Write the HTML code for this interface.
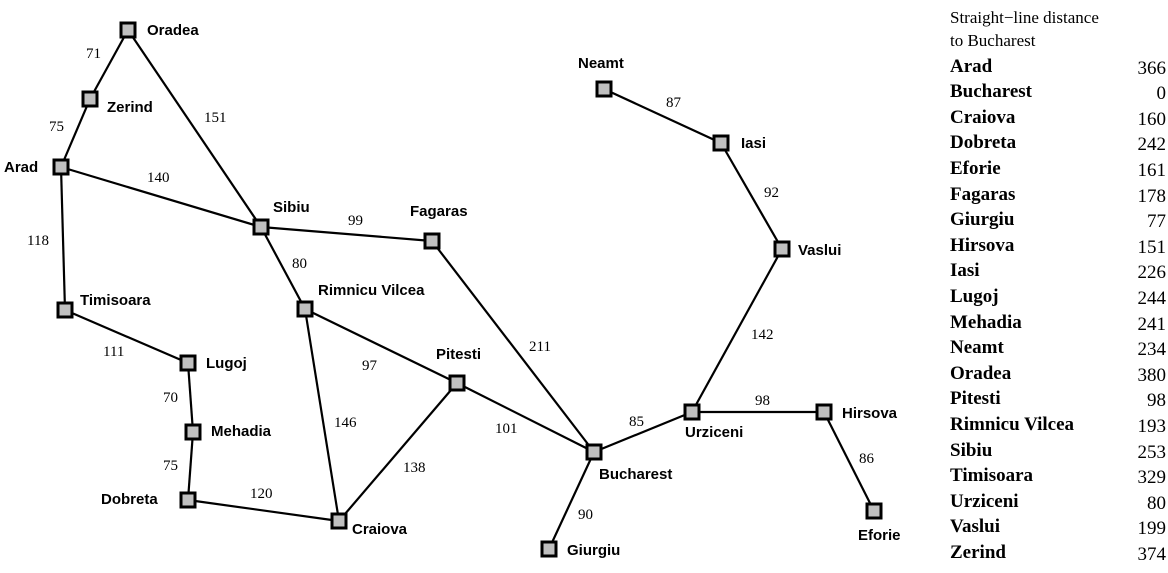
<!DOCTYPE html>
<html><head><meta charset="utf-8"><style>
html,body{margin:0;padding:0;background:#fff;width:1168px;height:573px;overflow:hidden}
svg{display:block}
.l{font-family:"Liberation Sans",sans-serif;font-weight:bold;font-size:15px}
.n{font-family:"Liberation Serif",serif;font-size:15px}
.h{font-family:"Liberation Serif",serif;font-size:17px}
.t{font-family:"Liberation Serif",serif;font-size:19px}
.tb{font-family:"Liberation Serif",serif;font-size:19px;font-weight:bold}
</style></head><body>
<svg width="1168" height="573" viewBox="0 0 1168 573">
<g stroke="#000" stroke-width="2.2" fill="none">
<line x1="128" y1="30" x2="90" y2="99"/>
<line x1="90" y1="99" x2="61" y2="167"/>
<line x1="128" y1="30" x2="261" y2="227"/>
<line x1="61" y1="167" x2="261" y2="227"/>
<line x1="61" y1="167" x2="65" y2="310"/>
<line x1="65" y1="310" x2="188" y2="363"/>
<line x1="188" y1="363" x2="193" y2="432"/>
<line x1="193" y1="432" x2="188" y2="500"/>
<line x1="188" y1="500" x2="339" y2="521"/>
<line x1="261" y1="227" x2="432" y2="241"/>
<line x1="261" y1="227" x2="305" y2="309"/>
<line x1="305" y1="309" x2="339" y2="521"/>
<line x1="305" y1="309" x2="457" y2="383"/>
<line x1="457" y1="383" x2="339" y2="521"/>
<line x1="457" y1="383" x2="594" y2="452"/>
<line x1="432" y1="241" x2="594" y2="452"/>
<line x1="594" y1="452" x2="549" y2="549"/>
<line x1="594" y1="452" x2="692" y2="412"/>
<line x1="692" y1="412" x2="824" y2="412"/>
<line x1="824" y1="412" x2="874" y2="511"/>
<line x1="692" y1="412" x2="782" y2="249"/>
<line x1="782" y1="249" x2="721" y2="143"/>
<line x1="721" y1="143" x2="604" y2="89"/>
</g>
<g fill="#c0c0c0" stroke="#000" stroke-width="3">
<rect x="121" y="23" width="14" height="14"/>
<rect x="83" y="92" width="14" height="14"/>
<rect x="54" y="160" width="14" height="14"/>
<rect x="254" y="220" width="14" height="14"/>
<rect x="425" y="234" width="14" height="14"/>
<rect x="58" y="303" width="14" height="14"/>
<rect x="298" y="302" width="14" height="14"/>
<rect x="181" y="356" width="14" height="14"/>
<rect x="450" y="376" width="14" height="14"/>
<rect x="186" y="425" width="14" height="14"/>
<rect x="181" y="493" width="14" height="14"/>
<rect x="332" y="514" width="14" height="14"/>
<rect x="587" y="445" width="14" height="14"/>
<rect x="542" y="542" width="14" height="14"/>
<rect x="685" y="405" width="14" height="14"/>
<rect x="817" y="405" width="14" height="14"/>
<rect x="867" y="504" width="14" height="14"/>
<rect x="775" y="242" width="14" height="14"/>
<rect x="714" y="136" width="14" height="14"/>
<rect x="597" y="82" width="14" height="14"/>
</g>
<g class="l">
<text x="147" y="35">Oradea</text>
<text x="107" y="112">Zerind</text>
<text x="4" y="172">Arad</text>
<text x="273" y="212">Sibiu</text>
<text x="410" y="216">Fagaras</text>
<text x="80" y="305">Timisoara</text>
<text x="318" y="295">Rimnicu Vilcea</text>
<text x="206" y="368">Lugoj</text>
<text x="436" y="359">Pitesti</text>
<text x="211" y="436">Mehadia</text>
<text x="101" y="504">Dobreta</text>
<text x="352" y="534">Craiova</text>
<text x="599" y="479">Bucharest</text>
<text x="567" y="555">Giurgiu</text>
<text x="685" y="437">Urziceni</text>
<text x="842" y="418">Hirsova</text>
<text x="858" y="540">Eforie</text>
<text x="798" y="255">Vaslui</text>
<text x="741" y="148">Iasi</text>
<text x="578" y="68">Neamt</text>
</g>
<g class="n">
<text x="86" y="58">71</text>
<text x="49" y="131">75</text>
<text x="204" y="122">151</text>
<text x="147" y="182">140</text>
<text x="27" y="245">118</text>
<text x="103" y="356">111</text>
<text x="163" y="402">70</text>
<text x="163" y="470">75</text>
<text x="250" y="498">120</text>
<text x="348" y="225">99</text>
<text x="292" y="268">80</text>
<text x="362" y="370">97</text>
<text x="334" y="427">146</text>
<text x="403" y="472">138</text>
<text x="495" y="433">101</text>
<text x="529" y="351">211</text>
<text x="578" y="519">90</text>
<text x="629" y="426">85</text>
<text x="755" y="405">98</text>
<text x="859" y="463">86</text>
<text x="751" y="339">142</text>
<text x="764" y="197">92</text>
<text x="666" y="107">87</text>
</g>
<text class="h" x="950" y="23">Straight−line distance</text>
<text class="h" x="950" y="46">to Bucharest</text>
<g class="tb">
<text x="950" y="72">Arad</text>
<text x="950" y="97">Bucharest</text>
<text x="950" y="123">Craiova</text>
<text x="950" y="148">Dobreta</text>
<text x="950" y="174">Eforie</text>
<text x="950" y="200">Fagaras</text>
<text x="950" y="225">Giurgiu</text>
<text x="950" y="251">Hirsova</text>
<text x="950" y="276">Iasi</text>
<text x="950" y="302">Lugoj</text>
<text x="950" y="328">Mehadia</text>
<text x="950" y="353">Neamt</text>
<text x="950" y="379">Oradea</text>
<text x="950" y="404">Pitesti</text>
<text x="950" y="430">Rimnicu Vilcea</text>
<text x="950" y="456">Sibiu</text>
<text x="950" y="481">Timisoara</text>
<text x="950" y="507">Urziceni</text>
<text x="950" y="532">Vaslui</text>
<text x="950" y="558">Zerind</text>
</g>
<g class="t" text-anchor="end">
<text x="1166" y="74">366</text>
<text x="1166" y="99">0</text>
<text x="1166" y="125">160</text>
<text x="1166" y="150">242</text>
<text x="1166" y="176">161</text>
<text x="1166" y="202">178</text>
<text x="1166" y="227">77</text>
<text x="1166" y="253">151</text>
<text x="1166" y="278">226</text>
<text x="1166" y="304">244</text>
<text x="1166" y="330">241</text>
<text x="1166" y="355">234</text>
<text x="1166" y="381">380</text>
<text x="1166" y="406">98</text>
<text x="1166" y="432">193</text>
<text x="1166" y="458">253</text>
<text x="1166" y="483">329</text>
<text x="1166" y="509">80</text>
<text x="1166" y="534">199</text>
<text x="1166" y="560">374</text>
</g>
</svg>
</body></html>
